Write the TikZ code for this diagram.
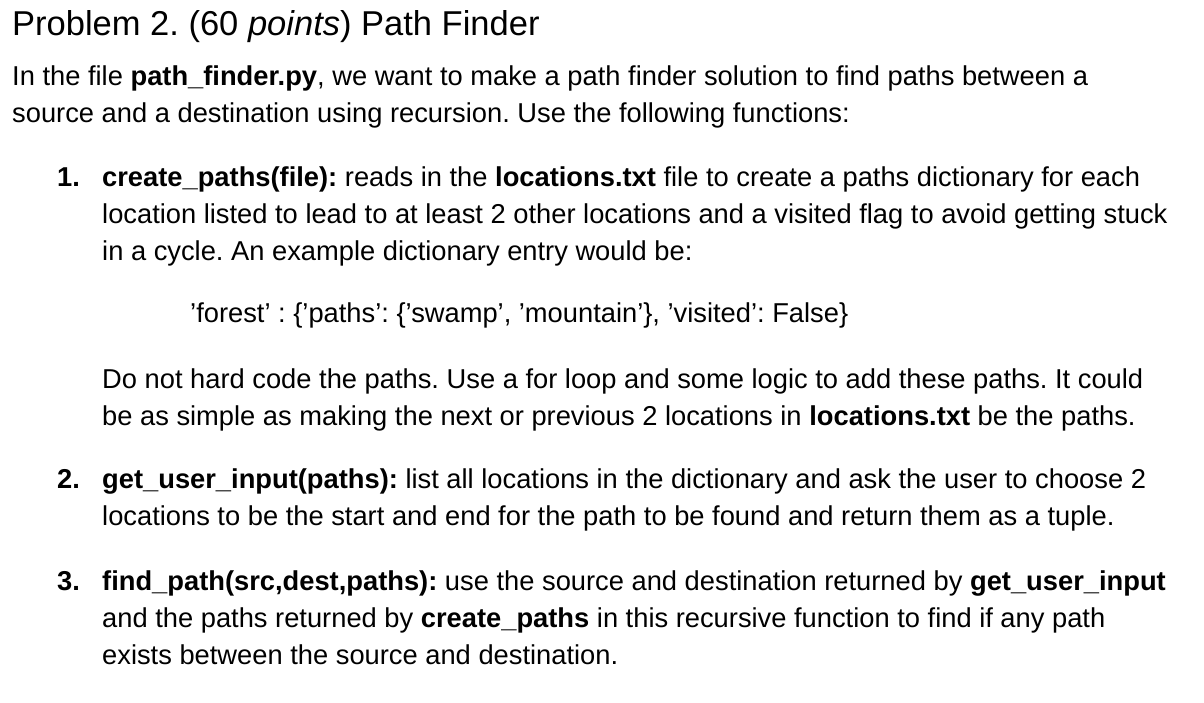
\documentclass[tikz,border=0pt]{standalone}
\usepackage{fontspec}
\setmainfont{Liberation Sans}
\newcommand{\q}{\char"0027\relax}
\frenchspacing
\begin{document}
\begin{tikzpicture}[x=1pt,y=-1pt,
  ln/.style={anchor=base west,inner sep=0pt,font=\fontsize{27.3}{32}\selectfont\frenchspacing},
  tt/.style={anchor=base west,inner sep=0pt,font=\fontsize{34.5}{40}\selectfont\frenchspacing}]
\useasboundingbox[fill=white] (0,0) rectangle (1204,702);
\node[tt] (t) at (12,35) {Problem 2. (60 \textit{points}) Path Finder};
\node[ln] (b1) at (12,85) {In the file \textbf{path\_finder.py}, we want to make a path finder solution to find paths between a};
\node[ln] (b2) at (12,122) {source and a destination using recursion. Use the following functions:};
\node[ln] (n1) at (57,186) {\textbf{1.}};
\node[ln] (a1) at (102,186) {\textbf{create\_paths(file):} reads in the \textbf{locations.txt} file to create a paths dictionary for each};
\node[ln] (a2) at (102,223) {location listed to lead to at least 2 other locations and a visited flag to avoid getting stuck};
\node[ln] (a3) at (102,260) {in a cycle. An example dictionary entry would be:};
\node[ln] (c) at (190,322) {\q forest\q{} : \{\q paths\q: \{\q swamp\q, \q mountain\q\}, \q visited\q: False\}};
\node[ln] (a4) at (102,388) {Do not hard code the paths. Use a for loop and some logic to add these paths. It could};
\node[ln] (a5) at (102,425) {be as simple as making the next or previous 2 locations in \textbf{locations.txt} be the paths.};
\node[ln] (n2) at (57,488) {\textbf{2.}};
\node[ln] (d1) at (102,488) {\textbf{get\_user\_input(paths):} list all locations in the dictionary and ask the user to choose 2};
\node[ln] (d2) at (102,525) {locations to be the start and end for the path to be found and return them as a tuple.};
\node[ln] (n3) at (57,590) {\textbf{3.}};
\node[ln] (e1) at (102,590) {\textbf{find\_path(src,dest,paths):} use the source and destination returned by \textbf{get\_user\_input}};
\node[ln] (e2) at (102,627) {and the paths returned by \textbf{create\_paths} in this recursive function to find if any path};
\node[ln] (e3) at (102,664) {exists between the source and destination.};
\end{tikzpicture}
\end{document}
